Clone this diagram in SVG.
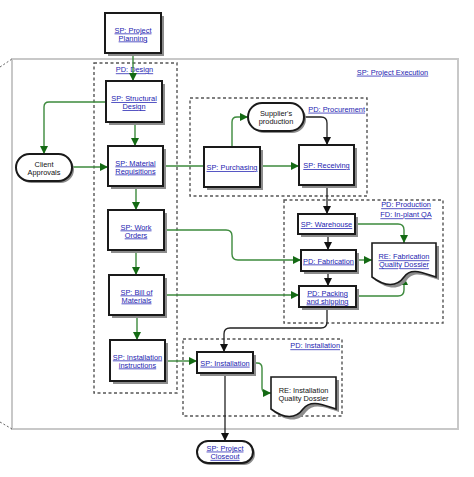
<svg xmlns="http://www.w3.org/2000/svg" width="474" height="477" viewBox="0 0 474 477">
<style>
text{font-family:"Liberation Sans",Arial,sans-serif;font-size:7.4px;text-anchor:middle}
.lk{fill:#1c1cb0;text-decoration:underline}
.bk{fill:#111}
.box{fill:#fff;stroke:#1a1a1a;stroke-width:2}
.sh{fill:#8c8c8c}
.grp{fill:none;stroke:#555;stroke-width:1.4;stroke-dasharray:3 2.5}
.g{fill:none;stroke:#3d8a3d;stroke-width:1.4}
.b{fill:none;stroke:#222;stroke-width:1.3}
</style>
<defs>
<marker id="ag" viewBox="0 0 8 8" markerWidth="8" markerHeight="8" refX="8" refY="4" orient="auto" markerUnits="userSpaceOnUse"><path d="M0,0 L8,4 L0,8 z" fill="#146a14"/></marker>
<marker id="ab" viewBox="0 0 8 8" markerWidth="8" markerHeight="8" refX="8" refY="4" orient="auto" markerUnits="userSpaceOnUse"><path d="M0,0 L8,4 L0,8 z" fill="#111"/></marker>
</defs>

<g id="project-execution">
<rect x="12" y="59" width="446" height="370" fill="none" stroke="#c8c8c8" stroke-width="2"/>
<path d="M0,67 L12,59 M0,422 L12,429" fill="none" stroke="#666" stroke-width="1" stroke-dasharray="2 2"/>
<text class="lk" x="392.5" y="74.7">SP: Project Execution</text>
</g>

<g id="pd-design">
<rect class="grp" x="94" y="63" width="83" height="330"/>
<text class="lk" x="134.5" y="72.4">PD: Design</text>
</g>
<g id="pd-procurement">
<rect class="grp" x="190" y="98" width="177" height="98"/>
<text class="lk" x="365" y="111.7" style="text-anchor:end">PD: Procurement</text>
</g>
<g id="pd-production">
<rect class="grp" x="284" y="200" width="159" height="123"/>
<text class="lk" x="406" y="207.4">PD: Production</text>
<text class="lk" x="406" y="217.4">FD: In-plant QA</text>
</g>
<g id="pd-installation">
<rect class="grp" x="183" y="339" width="159" height="77"/>
<text class="lk" x="340" y="348.4" style="text-anchor:end">PD: Installation</text>
</g>

<g id="connectors">
<path class="g" d="M133,53 V81" marker-end="url(#ag)"/>
<path class="g" d="M135,122 V146" marker-end="url(#ag)"/>
<path class="g" d="M106,102 H49 Q44,102 44,107 V154" marker-end="url(#ag)"/>
<path class="g" d="M72,167 H108" marker-end="url(#ag)"/>
<path class="g" d="M136,186 V210" marker-end="url(#ag)"/>
<path class="g" d="M136,250 V275" marker-end="url(#ag)"/>
<path class="g" d="M137,315 V340" marker-end="url(#ag)"/>
<path class="g" d="M165,361 H197" marker-end="url(#ag)"/>
<path class="g" d="M163,166 H299" marker-end="url(#ag)"/>
<path class="g" d="M232,147 V122 Q232,117 237,117 H248" marker-end="url(#ag)"/>
<path class="b" d="M304,117 H321 Q327,117 327,123 V145" marker-end="url(#ab)"/>
<path class="b" d="M327,185 V214" marker-end="url(#ab)"/>
<path class="b" d="M328,234 V250" marker-end="url(#ab)"/>
<path class="b" d="M328,271 V286" marker-end="url(#ab)"/>
<path class="g" d="M355,224 H398 Q404,224 404,230 V243" marker-end="url(#ag)"/>
<path class="g" d="M356,260 H372" marker-end="url(#ag)"/>
<path class="g" d="M356,296 H398 Q404,296 404,290 V277" marker-end="url(#ag)"/>
<path class="g" d="M164,230 H226 Q232,230 232,236 V254 Q232,260 238,260 H301" marker-end="url(#ag)"/>
<path class="g" d="M164,295 H299" marker-end="url(#ag)"/>
<path class="b" d="M327,307 V322 Q327,328 321,328 H230 Q224,328 224,334 V352" marker-end="url(#ab)"/>
<path class="g" d="M253,363 H257 Q262,363 262,368 V388 Q262,393 267,393 H271" marker-end="url(#ag)"/>
<path class="b" d="M225,373 V441" marker-end="url(#ab)"/>
</g>

<g id="project-planning">
<rect class="sh" x="108" y="16" width="56" height="40"/>
<rect class="box" x="105" y="13" width="56" height="40"/>
<text class="lk" x="133" y="32.5">SP: Project</text>
<text class="lk" x="133" y="40.5">Planning</text>
</g>
<g id="structural-design">
<rect class="sh" x="109" y="84" width="56" height="41"/>
<rect class="box" x="106" y="81" width="56" height="41"/>
<text class="lk" x="134" y="101">SP: Structural</text>
<text class="lk" x="134" y="109">Design</text>
</g>
<g id="client-approvals">
<rect class="sh" x="18" y="156" width="56" height="27" rx="13.5"/>
<rect class="box" x="16" y="154" width="56" height="27" rx="13.5" stroke-width="1.6"/>
<text class="bk" x="44" y="166.7">Client</text>
<text class="bk" x="44" y="175">Approvals</text>
</g>
<g id="material-requisitions">
<rect class="sh" x="111" y="149" width="55" height="40"/>
<rect class="box" x="108" y="146" width="55" height="40"/>
<text class="lk" x="135.5" y="165.5">SP: Material</text>
<text class="lk" x="135.5" y="173.5">Requisitions</text>
</g>
<g id="work-orders">
<rect class="sh" x="111" y="213" width="56" height="40"/>
<rect class="box" x="108" y="210" width="56" height="40"/>
<text class="lk" x="136" y="229.5">SP: Work</text>
<text class="lk" x="136" y="237.5">Orders</text>
</g>
<g id="bill-of-materials">
<rect class="sh" x="112" y="278" width="55" height="40"/>
<rect class="box" x="109" y="275" width="55" height="40"/>
<text class="lk" x="136.5" y="294.5">SP: Bill of</text>
<text class="lk" x="136.5" y="302.5">Materials</text>
</g>
<g id="installation-instructions">
<rect class="sh" x="113" y="343" width="55" height="41"/>
<rect class="box" x="110" y="340" width="55" height="41"/>
<text class="lk" x="137.5" y="359.5">SP: Installation</text>
<text class="lk" x="137.5" y="367.5">instructions</text>
</g>
<g id="suppliers-production">
<rect class="sh" x="250" y="105" width="56" height="28" rx="14"/>
<rect class="box" x="248" y="103" width="56" height="28" rx="14" stroke-width="1.6"/>
<text class="bk" x="276" y="116">Supplier's</text>
<text class="bk" x="276" y="124">production</text>
</g>
<g id="purchasing">
<rect class="sh" x="207" y="150" width="56" height="40"/>
<rect class="box" x="204" y="147" width="56" height="40"/>
<text class="lk" x="232" y="170">SP: Purchasing</text>
</g>
<g id="receiving">
<rect class="sh" x="302" y="148" width="55" height="40"/>
<rect class="box" x="299" y="145" width="55" height="40"/>
<text class="lk" x="326.5" y="168">SP: Receiving</text>
</g>
<g id="warehouse">
<rect class="sh" x="301" y="217" width="57" height="20"/>
<rect class="box" x="298" y="214" width="57" height="20"/>
<text class="lk" x="326.5" y="227">SP: Warehouse</text>
</g>
<g id="fabrication">
<rect class="sh" x="304" y="253" width="55" height="21"/>
<rect class="box" x="301" y="250" width="55" height="21"/>
<text class="lk" x="328.5" y="263.5">PD: Fabrication</text>
</g>
<g id="packing-shipping">
<rect class="sh" x="302" y="289" width="57" height="21"/>
<rect class="box" x="299" y="286" width="57" height="21"/>
<text class="lk" x="327.5" y="295.5">PD: Packing</text>
<text class="lk" x="327.5" y="303.5">and shipping</text>
</g>
<g id="fabrication-dossier">
<path class="sh" d="M375,246 H439 V280 C426,276 414,270 407,280 C400,290 388,290 375,280 Z"/>
<path d="M372,243 H436 V277 C423,273 411,267 404,277 C397,287 385,287 372,277 Z" fill="#fff" stroke="#1a1a1a" stroke-width="1.6"/>
<text class="lk" x="404" y="259.4">RE: Fabrication</text>
<text class="lk" x="404" y="267.4">Quality Dossier</text>
</g>
<g id="installation">
<rect class="sh" x="200" y="355" width="56" height="21"/>
<rect class="box" x="197" y="352" width="56" height="21"/>
<text class="lk" x="225" y="365.7">SP: Installation</text>
</g>
<g id="installation-dossier">
<path class="sh" d="M274,380 H339 V412 C326,408 314,402 306,412 C299,422 287,422 274,412 Z"/>
<path d="M271,377 H336 V409 C323,405 311,399 303,409 C296,419 284,419 271,409 Z" fill="#fff" stroke="#1a1a1a" stroke-width="1.6"/>
<text class="bk" x="303.5" y="392.7">RE: Installation</text>
<text class="bk" x="303.5" y="401">Quality Dossier</text>
</g>
<g id="project-closeout">
<rect class="sh" x="199" y="443" width="56" height="22" rx="11"/>
<rect class="box" x="197" y="441" width="56" height="22" rx="11" stroke-width="1.6"/>
<text class="lk" x="225" y="450.6">SP: Project</text>
<text class="lk" x="225" y="458.9">Closeout</text>
</g>
</svg>
